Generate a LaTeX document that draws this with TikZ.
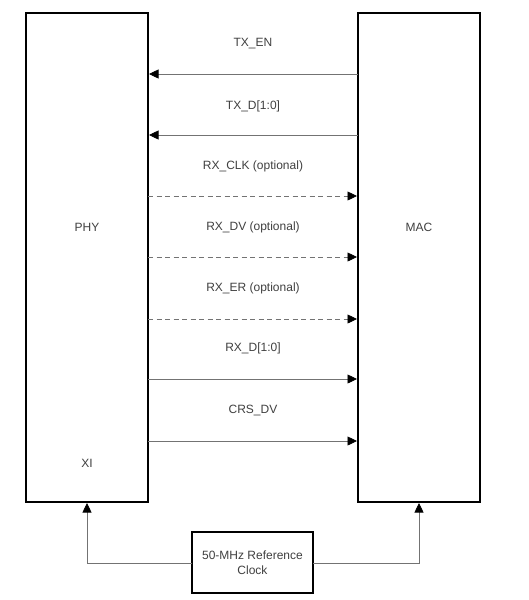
\documentclass[tikz,border=0pt]{standalone}
\usepackage{fontspec}
\setmainfont{Liberation Sans}
\usetikzlibrary{arrows.meta}
\begin{document}
\begin{tikzpicture}[x=1pt,y=-1pt,
  blockbox/.style={draw=black,line width=1.5pt,fill=white},
  sig/.style={draw=black!55,line width=0.7pt,-{Triangle[length=9.5pt,width=9pt,fill=black,color=black]}},
  optsig/.style={sig,dash pattern=on 5pt off 3.5pt},
  lbl/.style={text=black!75,font=\fontsize{12}{14}\selectfont,inner sep=0pt},
]
\useasboundingbox[fill=white] (0,0) rectangle (529,600);
% blocks
\draw[blockbox] (26,13) rectangle (148,502);
\draw[blockbox] (358,13) rectangle (480,502);
\draw[blockbox] (192,532) rectangle (313,593);
\node[lbl] (phy) at (87,227) {PHY};
\node[lbl] (mac) at (419,227) {MAC};
\node[lbl] (xi) at (87,463) {XI};
\node[lbl,align=center,font=\fontsize{12}{15}\selectfont] (clk) at (252.5,562.5) {50-MHz Reference\\Clock};
% signals
\foreach \lab/\ly/\ay/\st/\dir in {
  TX\_EN/44/74/sig/l,
  TX\_D[1:0]/106/135/sig/l,
  RX\_CLK (optional)/166/196/optsig/r,
  RX\_DV (optional)/227/257/optsig/r,
  RX\_ER (optional)/288/319/optsig/r,
  RX\_D[1:0]/348/379/sig/r,
  CRS\_DV/410/441/sig/r}{
  \node[lbl] at (253,\ly) {\lab};
  \if\dir l
    \draw[\st] (358,\ay) -- (149,\ay);
  \else
    \draw[\st] (148,\ay) -- (357,\ay);
  \fi
}
% clock connections
\coordinate (clkL) at (192,563);
\coordinate (clkR) at (313,563);
\draw[sig] (clkL) -| (87,503);
\draw[sig] (clkR) -| (419,503);
\end{tikzpicture}
\end{document}
